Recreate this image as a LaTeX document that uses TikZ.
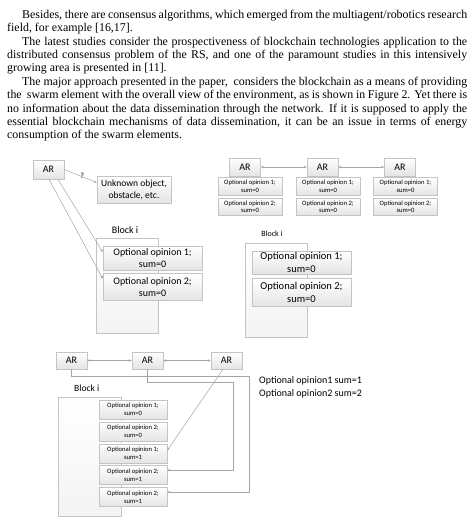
\documentclass[tikz,border=0pt]{standalone}
\usepackage{fontspec}
\setmainfont{Liberation Serif}
\newfontfamily\calibri{Carlito}
\usepackage{tikz}
\usetikzlibrary{positioning,arrows.meta}
\definecolor{boxline}{RGB}{196,196,196}
\definecolor{boxfill}{RGB}{228,228,228}
\definecolor{wire}{RGB}{165,165,165}
\tikzset{
  box/.style={draw=boxline, line width=0.6pt, top color=white, bottom color=boxfill, align=center, inner sep=0pt, font=\calibri},
  arbox/.style={box, minimum width=31pt, minimum height=18pt, font=\calibri\fontsize{10}{12}\selectfont},
  optbig/.style={box, minimum width=99pt, font=\calibri\fontsize{10}{12}\selectfont},
  optsmall/.style={box, minimum width=64pt, minimum height=17.5pt, font=\calibri\fontsize{6.6}{7.6}\selectfont},
  optlow/.style={box, minimum width=68pt, minimum height=19pt, font=\calibri\fontsize{6.6}{7.8}\selectfont},
  block/.style={draw=boxline, line width=0.6pt, top color=white, bottom color=gray!9},
  lbl/.style={font=\calibri\fontsize{10}{12}\selectfont, inner sep=0pt},
  arr/.style={-{Stealth[length=3pt,width=2.6pt]}, draw=wire, line width=0.5pt},
  dbl/.style={{Stealth[length=3pt,width=2.6pt]}-{Stealth[length=3pt,width=2.6pt]}, draw=wire, line width=0.5pt},
}
\begin{document}
\begin{tikzpicture}[x=1pt,y=-1pt]
    \useasboundingbox (0,0) rectangle (474,531);
    \node[anchor=north west, text width=460pt, inner sep=0pt, align=justify, font=\fontsize{11.9}{13.4}\selectfont] (body) at (7,9.8) {%
      \setlength{\parindent}{15pt}%
      \indent Besides, there are consensus algorithms, which emerged from the multiagent/robotics research \linebreak field, for example [16,17].\par
      \indent The latest studies consider the prospectiveness of blockchain technologies application to the \linebreak distributed consensus problem of the RS, and one of the paramount studies in this intensively \linebreak growing area is presented in [11].\par
      \indent The major approach presented in the paper,\ \ considers the blockchain as a means of providing \linebreak the\ \ swarm element with the overall view of the environment, as is shown in Figure 2. Yet there is \linebreak no information about the data dissemination through the network. If it is supposed to apply the \linebreak essential blockchain mechanisms of data dissemination, it can be an issue in terms of energy \linebreak consumption of the swarm elements.\par};

    \node[arbox, minimum height=19pt] (arL) at (48.5,169.5) {AR};
    \node[box, minimum width=74pt, minimum height=27pt, font=\calibri\fontsize{9.5}{11.7}\selectfont] (unk) at (134,189.5) {Unknown object,\\obstacle, etc.};
    \node[lbl] (blkLlbl) at (125,230) {Block i};
    \node[block, minimum width=62pt, minimum height=95pt] (blkL) at (127,285.5) {};
    \node[optbig, minimum height=24pt] (o1L) at (152.5,258) {Optional opinion 1;\\sum=0};
    \node[optbig, minimum height=27pt, below=3pt of o1L] (o2L) {Optional opinion 2;\\sum=0};
    \draw[arr] (arL.east) -- node[pos=0.55, yshift=1pt, inner sep=0pt, font=\calibri\fontsize{8}{9}\selectfont] {?} ([yshift=7pt]unk.west);
    \draw[arr] ([xshift=9.5pt]arL.south) -- ([yshift=6pt]o1L.west);
    \draw[arr] ([xshift=0.5pt]arL.south) -- ([yshift=8.5pt]o2L.west);

    \node[arbox] (arA) at (245,167) {AR};
    \node[arbox] (arB) at (322.5,167) {AR};
    \node[arbox] (arC) at (400,167) {AR};
    \node[optsmall] (oA1) at (250,186.5) {Optional opinion 1;\\sum=0};
    \node[optsmall, below=2pt of oA1] (oA2) {Optional opinion 2;\\sum=0};
    \node[optsmall] (oB1) at (328,186.5) {Optional opinion 1;\\sum=0};
    \node[optsmall, below=2pt of oB1] (oB2) {Optional opinion 2;\\sum=0};
    \node[optsmall] (oC1) at (405.5,186.5) {Optional opinion 1;\\sum=0};
    \node[optsmall, below=2pt of oC1] (oC2) {Optional opinion 2;\\sum=0};
    \draw[dbl] (arA) -- (arB);
    \draw[dbl] (arB) -- (arC);
    \node[lbl, font=\calibri\fontsize{8}{10}\selectfont] (blkRlbl) at (272,234) {Block i};
    \node[block, minimum width=62pt, minimum height=94pt] (blkR) at (276,290) {};
    \node[optbig, minimum height=23pt, font=\calibri\fontsize{10.5}{12.5}\selectfont] (o1R) at (301.5,262.5) {Optional opinion 1;\\sum=0};
    \node[optbig, minimum height=28pt, font=\calibri\fontsize{10.5}{12.5}\selectfont, below=4pt of o1R] (o2R) {Optional opinion 2;\\sum=0};

    \node[arbox, minimum height=17pt] (ar1) at (71.5,360.5) {AR};
    \node[arbox, minimum height=17pt] (ar2) at (147.5,360.5) {AR};
    \node[arbox, minimum height=17pt] (ar3) at (226.5,360.5) {AR};
    \draw[dbl] (ar1) -- (ar2);
    \draw[dbl] (ar2) -- (ar3);
    \node[lbl, font=\calibri\fontsize{9.5}{11}\selectfont] (blkBlbl) at (86.7,388) {Block i};
    \node[block, minimum width=63pt, minimum height=119pt] (blkB) at (89.5,456.5) {};
    \node[optlow] (p1) at (133,409.5) {Optional opinion 1;\\sum=0};
    \node[optlow, below=2.3pt of p1] (p2) {Optional opinion 2;\\sum=0};
    \node[optlow, below=2.3pt of p2] (p3) {Optional opinion 1;\\sum=1};
    \node[optlow, below=2.3pt of p3] (p4) {Optional opinion 2;\\sum=1};
    \node[optlow, below=2.3pt of p4] (p5) {Optional opinion 2;\\sum=1};
    \draw[arr] (ar1) -- (71.5,376) -- (249,376) |- ([yshift=5pt]p5.east);
    \draw[arr] (ar2) -- (147.5,382) -- (233,382) |- ([yshift=5pt]p4.east);
    \draw[arr] ([xshift=-3.5pt]ar3.south) -- ([yshift=3pt]p3.east);
    \node[lbl, anchor=west] (sum1) at (259,381) {Optional opinion1 sum=1};
    \node[lbl, anchor=west] (sum2) at (259,394) {Optional opinion2 sum=2};
  \end{tikzpicture}
\end{document}
